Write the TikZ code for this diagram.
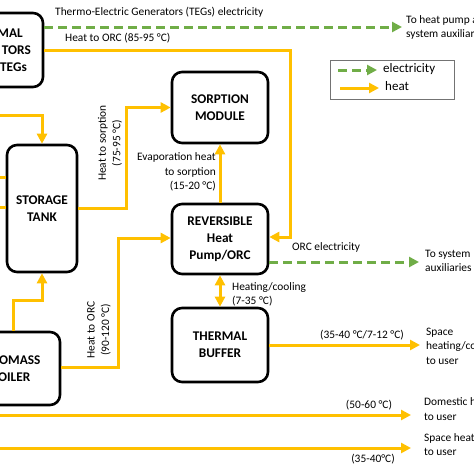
\documentclass[tikz,border=0pt]{standalone}
\usepackage{fontspec}
\setmainfont{Carlito}
\usetikzlibrary{arrows.meta, positioning}
\definecolor{heatYellow}{HTML}{FFC000}
\definecolor{elecGreen}{HTML}{70AD47}
\definecolor{legendGray}{gray}{0.45}

\begin{document}
\begin{tikzpicture}[x=1pt, y=-1pt, >={Triangle[length=10pt, width=10pt]}]
    \tikzset{
        unit/.style={draw, line width=2.6pt, rounded corners=10pt, fill=white, align=center,
            inner sep=0pt, font=\fontsize{13.3}{17}\selectfont\bfseries},
        heat/.style={heatYellow, line width=3pt},
        elec/.style={elecGreen, line width=3pt, dash pattern=on 9pt off 5pt},
        lbl/.style={inner sep=0pt, align=left, font=\fontsize{11.4}{14.5}\selectfont},
        frag/.style={inner sep=0pt, font=\fontsize{13.3}{17}\selectfont\bfseries},
    }
    \useasboundingbox (0,0) rectangle (474,474);

    % Units
    \node[unit, minimum width=83pt, minimum height=74pt] (tegs) at (1.5,50) {};
    \node[unit, minimum width=100pt, minimum height=73pt] (biomass) at (10,368.5) {};
    \node[unit, minimum width=70pt, minimum height=127pt] (storage) at (42,208.5) {STORAGE\\TANK};
    \node[unit, minimum width=96pt, minimum height=71pt] (sorption) at (220,107.5) {SORPTION\\MODULE};
    \node[unit, minimum width=96pt, minimum height=70pt] (rhp) at (220,239) {REVERSIBLE\\Heat\\Pump/ORC};
    \node[unit, minimum width=96pt, minimum height=74pt] (buffer) at (220,345) {THERMAL\\BUFFER};

    % What is left of the cut-off unit names
    \node[frag, anchor=east] (tegsA) at (23,33) {MAL};
    \node[frag, anchor=east] (tegsB) at (31,50) {TORS};
    \node[frag, anchor=east] (tegsC) at (27,67) {TEGs};
    \node[frag, anchor=west] (bioA) at (-1,360) {OMASS};
    \node[frag, anchor=west] (bioB) at (-2,377) {OILER};

    % Users and auxiliaries
    \node[lbl, anchor=west] (hpAux) at (406,27.5) {To heat pump and\\system auxiliaries};
    \node[lbl, anchor=west] (sysAux) at (425,261) {To system\\auxiliaries};
    \node[lbl, anchor=west] (spaceUser) at (426,346) {Space\\heating/cooling\\to user};
    \node[lbl, anchor=west] (dhwUser) at (424,409) {Domestic hot water\\to user};
    \node[lbl, anchor=west] (floorUser) at (424,444.5) {Space heating\\to user};

    % Free ends at the left border
    \coordinate (feedTop) at (0,115);
    \coordinate (feedMidA) at (0,177);
    \coordinate (feedMidB) at (0,207);
    \coordinate (dhwIn) at (0,415);
    \coordinate (floorIn) at (0,448);

    % Heat flows
    \draw[heat, ->] (feedTop) -| (storage.north);
    \draw[heat] (feedMidA) -- (feedMidA -| storage.west);
    \draw[heat] (feedMidB) -- (feedMidB -| storage.west);
    \draw[heat, ->] (13,0 |- biomass.north) -- (13,300) -| (storage.south);
    \draw[heat, ->] (storage.east) -- ++(48,0) |- (sorption.west);
    \draw[heat, ->] (rhp.north) -- (sorption.south);
    \draw[heat, ->] (tegs.east) -- ++(246,0) |- ([yshift=2pt]rhp.east);
    \draw[heat, ->] ([yshift=1pt]biomass.east) -- ++(57,0) |- ([yshift=1pt]rhp.west);
    \draw[heat, <->] (rhp.south) -- (buffer.north);
    \draw[heat, ->, shorten >=6pt] (buffer.east) -- (buffer.east -| spaceUser.west);
    \draw[heat, ->, shorten >=13pt] (dhwIn) -- (dhwIn -| dhwUser.west);
    \draw[heat, ->, shorten >=13pt] (floorIn) -- (floorIn -| floorUser.west);

    % Electricity
    \draw[elec, ->, shorten >=4pt] (tegs.east |- 0,27) -- (hpAux.west |- 0,27);
    \draw[elec, ->, shorten >=6pt] ([yshift=-23pt]rhp.east) -- ([yshift=-23pt]rhp.east -| sysAux.west);

    % Labels
    \node[lbl, anchor=west] (tegElecLbl) at (55,12) {Thermo-Electric Generators (TEGs) electricity};
    \node[lbl, anchor=west] (tegHeatLbl) at (65,38) {Heat to ORC (85-95 °C)};
    \node[lbl, align=center, rotate=90] (sorpLbl) at (110,143) {Heat to sorption\\(75-95 °C)};
    \node[lbl, align=right, anchor=east] (evapLbl) at (216,172) {Evaporation heat\\to sorption\\(15-20 °C)};
    \node[lbl, align=center, rotate=90] (bioLbl) at (99,330) {Heat to ORC\\(90-120 °C)};
    \node[lbl, anchor=west] (orcElecLbl) at (292,247) {ORC electricity};
    \node[lbl, anchor=west] (hcLbl) at (232,294.5) {Heating/cooling\\(7-35 °C)};
    \node[lbl] (bufLbl) at (362,335) {(35-40 °C/7-12 °C)};
    \node[lbl] (dhwLbl) at (369,405) {(50-60 °C)};
    \node[lbl] (floorLbl) at (373,459) {(35-40°C)};

    % Legend
    \node[draw=legendGray, line width=1pt, minimum width=124pt, minimum height=39pt] (legend) at (392,79.5) {};
    \draw[elec, ->] (338,70) -- (377,70);
    \draw[heat, ->] (340,88) -- (379,88);
    \node[lbl, anchor=west, font=\fontsize{13}{15}\selectfont] (legElec) at (383,69) {electricity};
    \node[lbl, anchor=west, font=\fontsize{13}{15}\selectfont] (legHeat) at (385,86) {heat};
\end{tikzpicture}
\end{document}
